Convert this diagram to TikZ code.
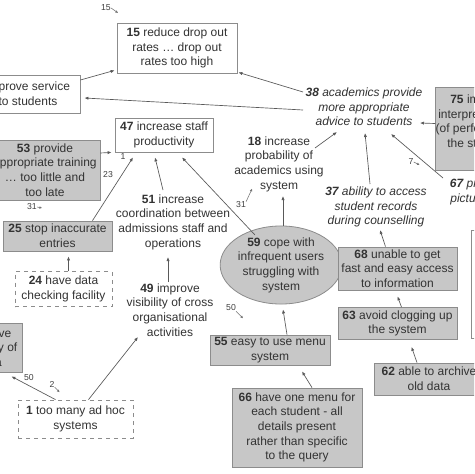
\documentclass[tikz,border=0pt]{standalone}
\usepackage{fontspec}
\setmainfont{Liberation Sans}
\usetikzlibrary{arrows.meta, calc, shapes.geometric}

\begin{document}
\begin{tikzpicture}[x=0.75pt, y=-0.75pt,
  every node/.style={font=\fontsize{9}{11}\selectfont, text=black!80, align=center, inner sep=0pt},
  box/.style={draw=black!45, line width=0.6pt},
  grey/.style={box, fill=black!22},
  dbox/.style={box, dashed},
  ital/.style={font=\fontsize{9}{11}\selectfont\itshape},
  link/.style={draw=black!65, line width=0.5pt, -{Latex[length=3pt,width=2.4pt]}},
  num/.style={font=\fontsize{6.5}{7}\selectfont, text=black!75},
  nub/.style={draw=black!55, line width=0.4pt, -{Latex[length=2pt,width=2pt]}}]
\useasboundingbox (0,0) rectangle (474,474);
\clip (0,0) rectangle (474,474);
\fill[white] (0,0) rectangle (474,474);

\node[box, minimum width=90pt, minimum height=37.5pt] (n15) at (177,48) {\textbf{15} reduce drop out\\rates \ldots\ drop out\\rates too high};
\node[box, minimum width=78pt, minimum height=28.5pt] (imp) at (28,94) {improve service\\to students};
\node[ital] (n38) at (364,107) {\textbf{38} academics provide\\more appropriate\\advice to students};
\node[grey, minimum width=64.5pt, minimum height=62.25pt] (n75) at (480,128.5) {\textbf{75} improve\\interpretation of\\(of performance)\\the students\\~};
\node[ital] (n67) at (478,192) {\textbf{67} provide\\pictures of};
\node[box, minimum width=73.5pt, minimum height=25.5pt] (n47) at (164,135) {\textbf{47} increase staff\\productivity};
\node[grey, minimum width=82.5pt, minimum height=45pt] (n53) at (45,170) {\textbf{53} provide\\appropriate training\\\ldots\ too little and\\too late};
\node (n18) at (279,164) {\textbf{18} increase\\probability of\\academics using\\system};
\node[ital] (n37) at (376,207) {\textbf{37} ability to access\\student records\\during counselling};
\node (n51) at (173,222) {\textbf{51} increase\\coordination between\\admissions staff and\\operations};
\node[grey, minimum width=81.75pt, minimum height=22.5pt] (n25) at (57.5,236) {\textbf{25} stop inaccurate\\entries};
\node[dbox, minimum width=72.75pt, minimum height=26.25pt] (n24) at (63.5,289) {\textbf{24} have data\\checking facility};
\node[grey, ellipse, minimum width=84pt, minimum height=49.5pt] (n59) at (281,265) {\textbf{59} cope with\\infrequent users\\struggling with\\system};
\node[grey, minimum width=89.25pt, minimum height=32.25pt] (n68) at (397.5,268.5) {\textbf{68} unable to get\\fast and easy access\\to information};
\node[box, minimum width=44pt, minimum height=81pt] (rbx) at (501,284) {};
\node (n49) at (170,310) {\textbf{49} improve\\visibility of cross\\organisational\\activities};
\node[grey, minimum width=89.25pt, minimum height=24pt] (n63) at (397.5,323.5) {\textbf{63} avoid clogging up\\the system};
\node[grey, minimum width=48pt, minimum height=36.75pt] (lft) at (-10,347.5) {improve\\visibility of\\data};
\node[grey, minimum width=90pt, minimum height=22.5pt] (n55) at (270,350) {\textbf{55} easy to use menu\\system};
\node[grey, minimum width=82.5pt, minimum height=24pt] (n62) at (429,379) {\textbf{62} able to archive\\old data};
\node[dbox, minimum width=86.25pt, minimum height=28.5pt] (n1) at (75.5,419) {\textbf{1} too many ad hoc\\systems};
\node[grey, minimum width=97.5pt, minimum height=59.25pt] (n66) at (297,427.5) {\textbf{66} have one menu for\\each student - all\\details present\\rather than specific\\to the query};

\draw[link] ($(imp.east)+(0,-14)$) -- ($(n15.south west)+(-2,-3)$);
\draw[link] ($(n38)+(-61,-15)$) -- ($(n15.south east)+(1,-1)$);
\draw[link] ($(n38)+(-61,3)$) -- ($(imp.east)+(4,4)$);
\draw[link] ($(n75.west)+(0,-5)$) -- ($(n38)+(56,16)$);
\draw[link] ($(n67)+(-35,-14)$) -- ($(n38)+(27,27)$);
\draw[link] ($(n18)+(36,-16)$) -- ($(n38)+(-27,25)$);
\draw[link] ($(n37)+(-6,-23)$) -- ($(n38)+(1,26)$);
\draw[link] ($(n68.north)+(-12,0)$) -- ($(n37)+(4,23)$);
\draw[link] ($(n63.north)+(4,0)$) -- ($(n68.south)+(0,6)$);
\draw[link] ($(n62.north)+(-12,0)$) -- ($(n63.south)+(14,7)$);
\draw[link] ($(n59.north)+(2,0)$) -- ($(n18)+(4,32)$);
\draw[link] ($(n55.north)+(17,0)$) -- ($(n59.south)+(2,5)$);
\draw[link] ($(n66.north)+(15,0)$) -- ($(n55.south)+(32,6)$);
\draw[link] ($(n59)+(-26,-30)$) -- ($(n47.south)+(18,5)$);
\draw[link] ($(n51)+(-10,-32)$) -- ($(n47.south)+(-9,5)$);
\draw[link] ($(n25.north)+(35,0)$) -- ($(n47.south)+(-31,5)$);
\draw[link] ($(n53.east)+(0,-17)$) -- ($(n47.south west)+(-3,0)$);
\draw[link] ($(n24.north)+(5,0)$) -- ($(n25.south)+(11,5)$);
\draw[link] ($(n49)+(-2,-28)$) -- ($(n51)+(-5,35)$);
\draw[link] ($(n1.north)+(13,0)$) -- ($(n49)+(-32,27)$);
\draw[link] ($(n1.north)+(-20,0)$) -- ($(lft.south east)+(-11,4)$);

\node[num] (l15) at (106,8) {15};
\draw[nub] (l15.east) -- ++(7,5);
\node[num] (l1) at (123,157) {1};
\node[num] (l23) at (108,175) {23};
\node[num] (l31a) at (32,207) {31};
\draw[nub] (l31a.east) -- ++(5,1);
\node[num] (l31b) at (241,205) {31};
\draw[nub] (l31b.north east) -- ++(6,-13);
\node[num] (l50a) at (231,308) {50};
\draw[nub] (l50a.south east) -- ++(7,7);
\node[num] (l7) at (411,162) {7};
\draw[nub] (l7.east) -- ++(6,3);
\node[num] (l50b) at (29,378) {50};
\node[num] (l2) at (52,384) {2};
\draw[nub] (l2.south east) -- ++(5,5);
\end{tikzpicture}
\end{document}
